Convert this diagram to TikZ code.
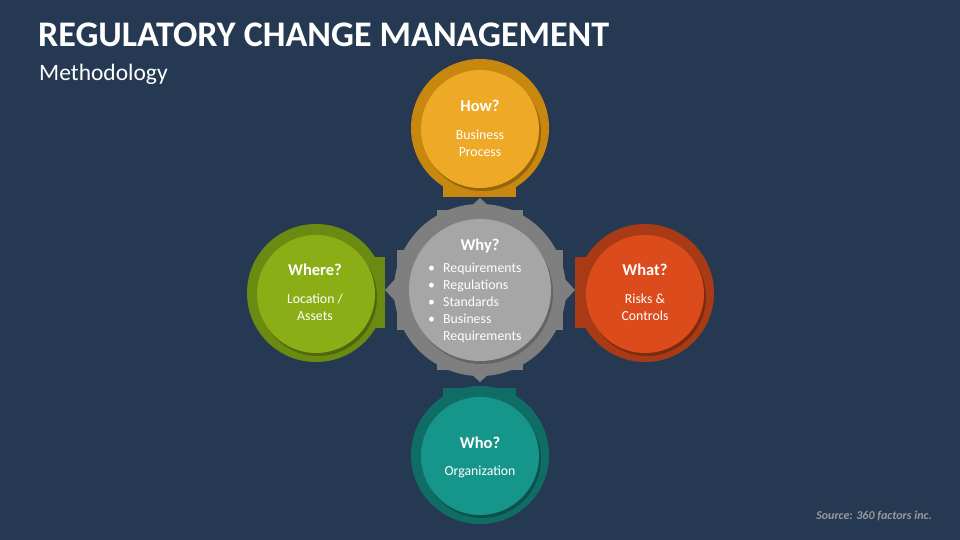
\documentclass[tikz,border=0pt]{standalone}
\usepackage{fontspec}
\setmainfont{Carlito}
\begin{document}
\begin{tikzpicture}[x=1pt,y=-1pt,
  lbl/.style={text=white,align=center,font=\fontsize{13.8}{17}\selectfont,inner sep=0},
  ttl/.style={text=white,font=\bfseries\fontsize{16.5}{19}\selectfont,inner sep=0}]
\definecolor{bg}{HTML}{253A52}
\fill[bg] (0,0) rectangle (960,540);
\useasboundingbox (0,0) rectangle (960,540);
\node[anchor=west,text=white,font=\bfseries\fontsize{36}{40}\selectfont,inner sep=0] (title) at (38,35) {REGULATORY CHANGE MANAGEMENT};
\node[anchor=west,text=white,font=\fontsize{23.5}{27}\selectfont,inner sep=0] (sub) at (39,74) {Methodology};
\node[anchor=east,text=gray!80,font=\bfseries\itshape\fontsize{12}{14}\selectfont,inner sep=0] (src) at (932,516) {Source: 360 factors inc.};
% gear
\definecolor{gearc}{HTML}{7F7F7F}
\fill[gearc] (480,290) circle (86);
\fill[gearc] (397,250) rectangle (563,330);
\fill[gearc] (437,210) rectangle (523,370);
\fill[gearc] (467,210)--(480,198)--(493,210)--cycle;
\fill[gearc] (467,370)--(480,382)--(493,370)--cycle;
\fill[gearc] (397,277)--(385,290)--(397,303)--cycle;
\fill[gearc] (563,277)--(575,290)--(563,303)--cycle;
% outer circles with tabs
\definecolor{o1}{HTML}{C8870F}\definecolor{o2}{HTML}{EEA927}
\definecolor{g1}{HTML}{6A8A12}\definecolor{g2}{HTML}{8BAE17}
\definecolor{r1}{HTML}{A83A15}\definecolor{r2}{HTML}{DC4B1C}
\definecolor{t1}{HTML}{0F6D66}\definecolor{t2}{HTML}{16968A}
\fill[o1] (480,128) circle (69); \fill[o1] (443,170) rectangle (516,197);
\fill[g1] (316,293) circle (69); \fill[g1] (355,257) rectangle (385,328);
\fill[r1] (645,293) circle (69); \fill[r1] (575,257) rectangle (605,328);
\fill[t1] (480,455) circle (69); \fill[t1] (443,388) rectangle (516,415);
% inner circles with shadow
\foreach \cx/\cy/\c in {480/129/o2,316/294/g2,645/294/r2,480/456/t2}{
  \fill[black,opacity=0.25] (\cx+2,\cy+3) circle (59);
  \fill[\c] (\cx,\cy) circle (59);}
\fill[black,opacity=0.2] (482,293) circle (71);
\fill[gray!70] (480,290) circle (71);
% texts
\node[ttl] (howt) at (480,106) {How?};
\node[lbl] (how) at (480,143) {Business\\Process};
\node[ttl] (wheret) at (315,270) {Where?};
\node[lbl] (where) at (315,307) {Location /\\Assets};
\node[ttl] (whatt) at (645,270) {What?};
\node[lbl] (what) at (645,307) {Risks \&\\Controls};
\node[ttl] (whot) at (480,443) {Who?};
\node[lbl] (who) at (480,472) {Organization};
\node[ttl] (whyt) at (480,246) {Why?};
\node[lbl,align=left,anchor=north west] (why) at (428,263) {%
  \makebox[15pt][l]{•}Requirements\\ \makebox[15pt][l]{•}Regulations\\ \makebox[15pt][l]{•}Standards\\ \makebox[15pt][l]{•}Business\\ \makebox[15pt][l]{}Requirements};
\end{tikzpicture}
\end{document}
